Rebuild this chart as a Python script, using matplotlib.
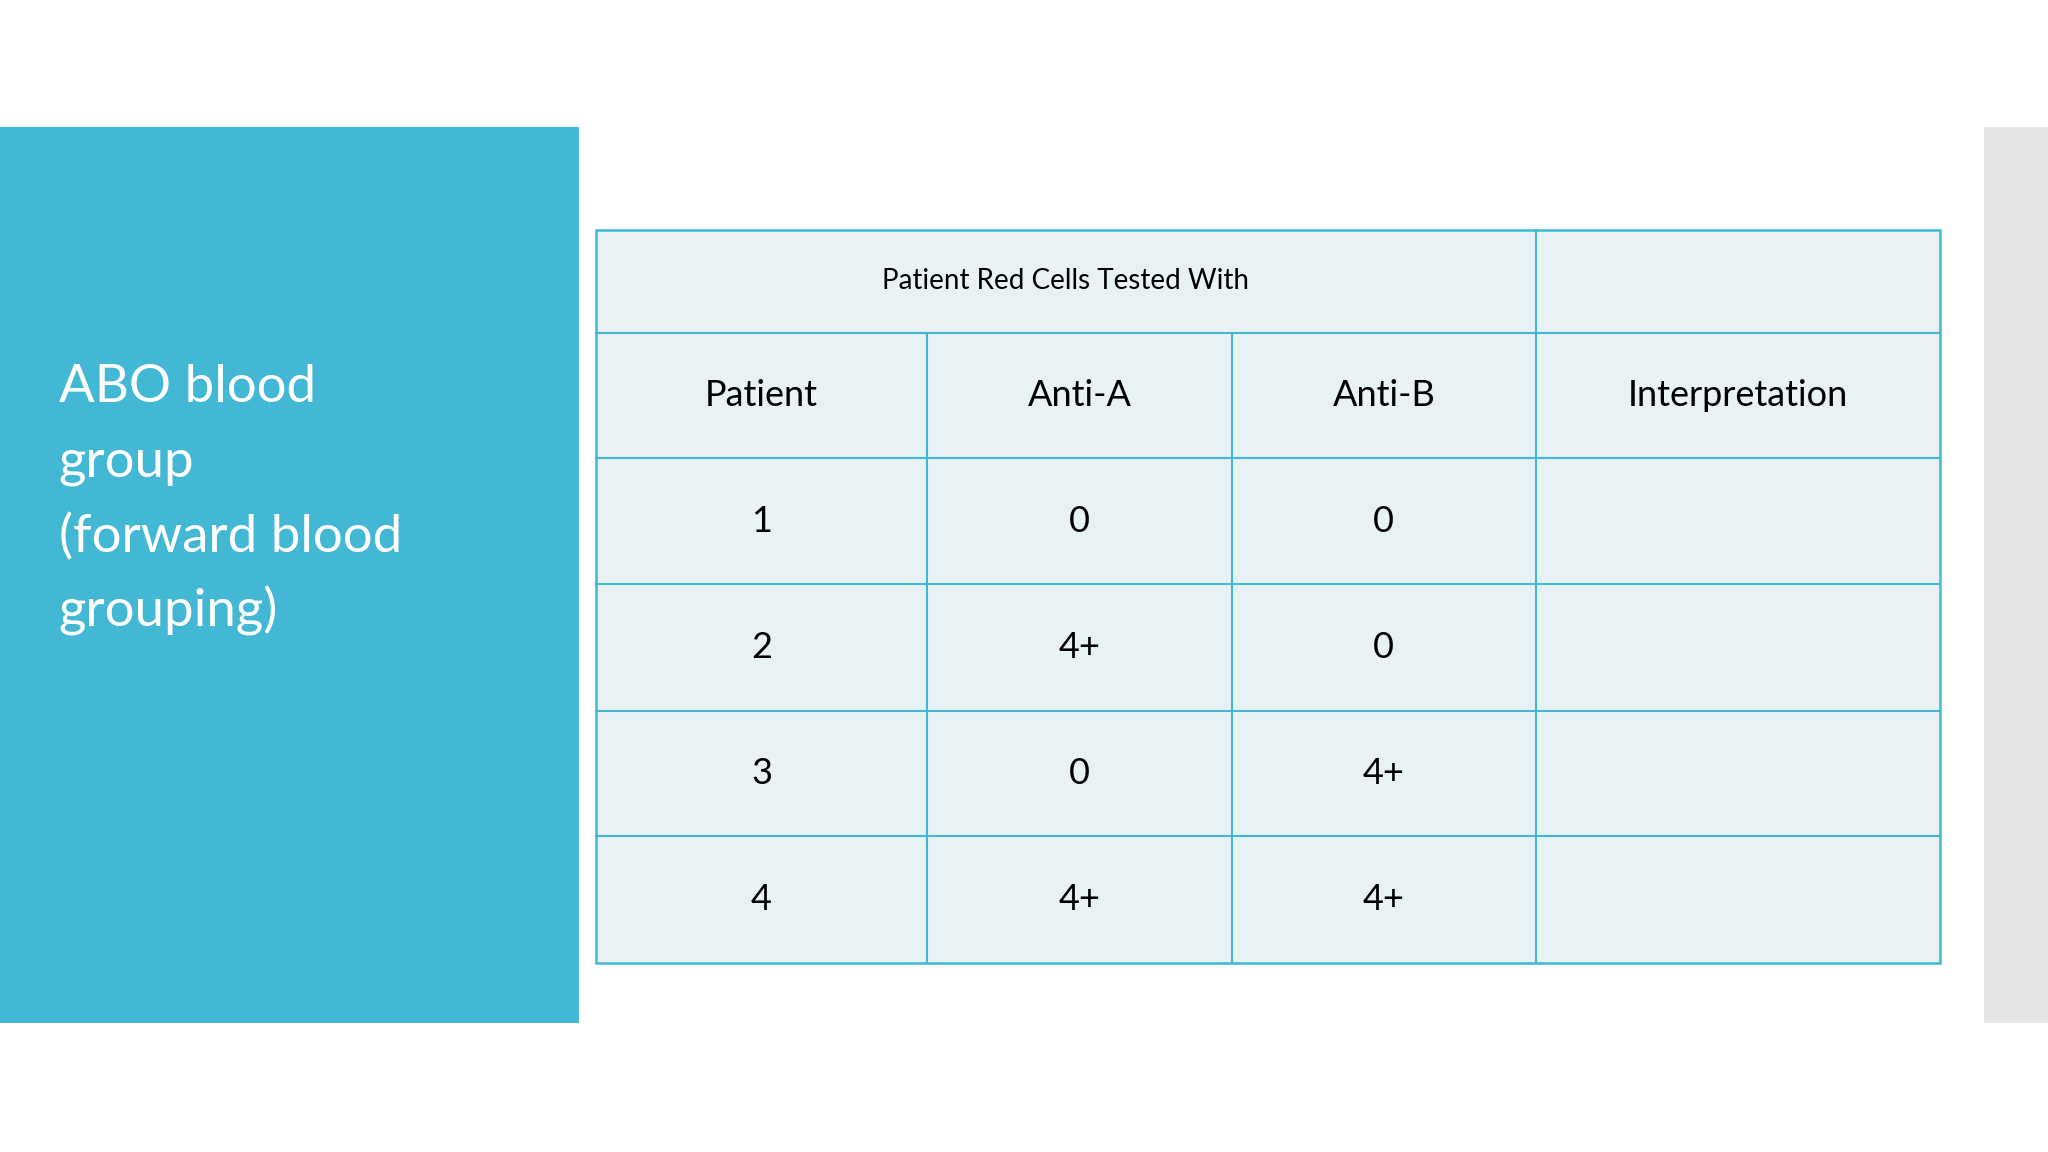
import matplotlib.pyplot as plt
from matplotlib.patches import Rectangle

title_lines = ["ABO blood", "group", "(forward blood", "grouping)"]
group_header = "Patient Red Cells Tested With"
col_headers = ["Patient", "Anti-A", "Anti-B", "Interpretation"]
patients = ["1", "2", "3", "4"]
anti_a = ["0", "4+", "0", "4+"]
anti_b = ["0", "0", "4+", "4+"]
interpretation = ["", "", "", ""]

blue = "#42B8D4"
cell = "#E8F2F5"

fig = plt.figure(figsize=(20.48, 11.52), dpi=100)
ax = fig.add_axes([0, 0, 1, 1])
ax.set_xlim(0, 1568)
ax.set_ylim(882, 0)
ax.axis("off")

# side panels
ax.add_patch(Rectangle((0, 97), 443, 686, color=blue, lw=0))
ax.add_patch(Rectangle((1519, 97), 49, 686, color="#E6E6E6", lw=0))

for i, t in enumerate(title_lines):
    ax.text(45, 297 + i * 57, t, color="white", fontsize=38, family="Lato",
            va="center", ha="left")

# table grid
xs = [456, 710, 943, 1176, 1485]
ys = [176, 255, 351, 447, 544, 640, 737]
ax.add_patch(Rectangle((xs[0], ys[0]), xs[-1] - xs[0], ys[-1] - ys[0],
                       facecolor=cell, edgecolor=blue, lw=1.8))
for y in ys[1:-1]:
    ax.plot([xs[0], xs[-1]], [y, y], color=blue, lw=1.5)
ax.plot([xs[3], xs[3]], [ys[0], ys[-1]], color=blue, lw=1.5)
for x in xs[1:3]:
    ax.plot([x, x], [ys[1], ys[-1]], color=blue, lw=1.5)

ax.text((xs[0] + xs[3]) / 2, (ys[0] + ys[1]) / 2, group_header, fontsize=20,
        family="Lato", ha="center", va="center", color="black")

rows = [col_headers] + [list(r) for r in zip(patients, anti_a, anti_b, interpretation)]
for r, row in enumerate(rows):
    yc = (ys[r + 1] + ys[r + 2]) / 2
    for c, val in enumerate(row):
        xc = (xs[c] + xs[c + 1]) / 2
        ax.text(xc, yc, val, fontsize=26, family="Lato", ha="center",
                va="center", color="black")

fig.savefig("out.png", dpi=100)
